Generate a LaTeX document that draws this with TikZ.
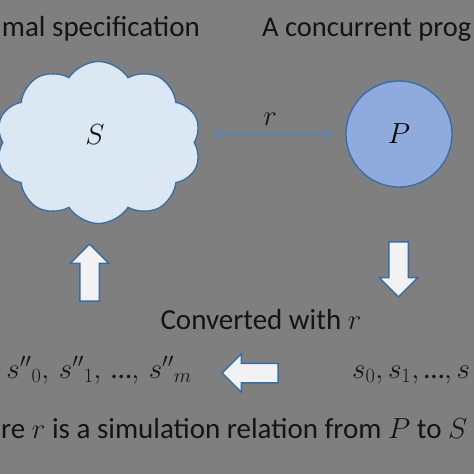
\RequirePackage{fix-cm}
\documentclass[tikz,border=0pt]{standalone}
\usepackage{fontspec}
\setmainfont{Carlito}
\usetikzlibrary{arrows.meta,positioning,shapes.symbols,shapes.arrows}

\definecolor{bggray}{RGB}{127,127,127}
\definecolor{edgeblue}{RGB}{52,110,168}
\definecolor{lineblue}{RGB}{88,132,186}
\definecolor{cloudfill}{RGB}{220,231,244}
\definecolor{circfill}{RGB}{143,170,220}
\definecolor{arrfill}{RGB}{242,242,242}
\newcommand{\ellip}{\mbox{…}}

\begin{document}
\begin{tikzpicture}[
  x=1pt, y=-1pt,
  lbl/.style={font=\fontsize{29}{33}\selectfont, text=black!92, inner sep=0pt},
  spec/.style={cloud, cloud puffs=10, cloud puff arc=115, cloud ignores aspect, draw=edgeblue,
    line width=1.3pt, fill=cloudfill, minimum width=205pt, minimum height=162pt},
  prog/.style={circle, draw=edgeblue, line width=1.3pt, fill=circfill, minimum size=106pt,
    inner sep=0pt, font=\fontsize{29}{33}\selectfont},
  blk/.style={single arrow, draw=edgeblue, line width=1.5pt, fill=arrfill, inner xsep=0pt,
    inner ysep=9pt, single arrow head extend=9.5pt},
  rel/.style={{Straight Barb[length=6pt,width=9pt]}-{Straight Barb[length=6pt,width=9pt]},
    draw=lineblue, line width=1.2pt}
]
\useasboundingbox (0,0) rectangle (474,474);
\fill[bggray] (0,0) rectangle (474,474);
\clip (0,0) rectangle (474,474);

\node[lbl, anchor=base east] (fs) at (200,36) {mal specification};
\node[lbl, anchor=base west, font=\fontsize{28.5}{33}\selectfont] (cp) at (262,36) {A concurrent prog};

\node[spec] (S) at (98.5,142.5) {};
\node[lbl] (Slbl) at (95,135) {$S$};
\node[prog] (P) at (399,134) {$P$};

\draw[rel, shorten <=19pt, shorten >=13pt] (S.east |- P.west) -- (P.west)
  node[lbl, midway, above=8pt] (rlbl) {$r$};

\node[blk, minimum height=57pt, rotate=90] (up) at (89.5,277.5) {};
\node[blk, minimum height=55pt, rotate=-90] (down) at (398.5,264.5) {};
\node[blk, minimum height=56pt, rotate=180] (left) at (255,373) {};

\node[lbl, anchor=base] (cv) at (261,329) {Converted with $r$};
\node[lbl, anchor=base east] (seqS) at (192,378) {$s''{}_0,\,s''{}_1,\,\ellip,\,s''{}_m$};
\node[lbl, anchor=base west] (seqP) at (352,378) {$s_0, s_1, \ellip, s$};
\node[lbl, anchor=base west] (where) at (1,438) {re $r$ is a simulation relation from $P$ to $S$};
\end{tikzpicture}
\end{document}
